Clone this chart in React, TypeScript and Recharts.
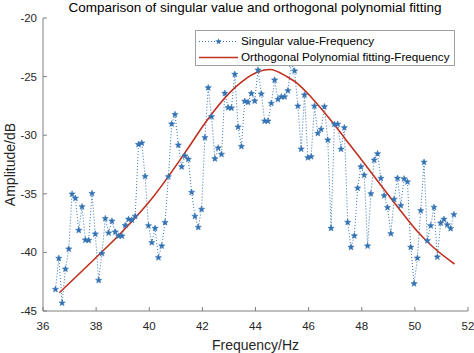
import React from 'react';
import { ComposedChart, Line, XAxis, YAxis, Legend } from 'recharts';

// Frequency (Hz) of each measured singular-value point
const frequencies = [
  36.47, 36.595, 36.72, 36.845, 36.97, 37.095, 37.22, 37.345,
  37.47, 37.595, 37.72, 37.845, 37.97, 38.095, 38.22, 38.345,
  38.47, 38.595, 38.72, 38.845, 38.97, 39.095, 39.22, 39.345,
  39.47, 39.595, 39.72, 39.845, 39.97, 40.095, 40.22, 40.345,
  40.47, 40.595, 40.72, 40.845, 40.97, 41.095, 41.22, 41.345,
  41.47, 41.595, 41.72, 41.845, 41.97, 42.095, 42.22, 42.345,
  42.47, 42.595, 42.72, 42.845, 42.97, 43.095, 43.22, 43.345,
  43.47, 43.595, 43.72, 43.845, 43.97, 44.095, 44.22, 44.345,
  44.47, 44.595, 44.72, 44.845, 44.97, 45.095, 45.22, 45.345,
  45.47, 45.595, 45.72, 45.845, 45.97, 46.095, 46.22, 46.345,
  46.47, 46.595, 46.72, 46.845, 46.97, 47.095, 47.22, 47.345,
  47.47, 47.595, 47.72, 47.845, 47.97, 48.095, 48.22, 48.345,
  48.47, 48.595, 48.72, 48.845, 48.97, 49.095, 49.22, 49.345,
  49.47, 49.595, 49.72, 49.845, 49.97, 50.095, 50.22, 50.345,
  50.47, 50.595, 50.72, 50.845, 50.97, 51.095, 51.22, 51.345,
  51.47,
];

// Singular value amplitude (dB)
const amplitudes = [
  -43.15, -40.5, -44.32, -41.42, -39.71, -35.02, -35.38, -38.11, -36.1, -38.94,
  -38.97, -34.97, -38.43, -42.38, -40.09, -37.11, -38.34, -37.32, -38.26, -38.6,
  -38.6, -37.7, -37.17, -37.24, -36.92, -30.79, -30.67, -33.52, -37.72, -39.16,
  -37.94, -40.45, -39.45, -37.45, -33.54, -29.04, -28.23, -30.84, -32.69, -31.77,
  -32.05, -34.87, -36.92, -37.86, -36.32, -30.21, -25.95, -28.42, -32.01, -31.09,
  -31.63, -26.42, -27.64, -27.68, -24.8, -29.3, -30.96, -27.1, -27.19, -26.44,
  -27.08, -24.44, -26.48, -28.79, -28.79, -27.28, -25.29, -26.94, -26.72, -26.72,
  -26.2, -23.92, -24.52, -27.51, -31.18, -26.57, -31.92, -31.83, -27.51, -29.84,
  -29.5, -27.57, -30.41, -37.94, -29.06, -29.06, -31.19, -29.36, -37.43, -39.56,
  -38.58, -34.51, -32.69, -33.41, -39.45, -34.99, -32.12, -31.58, -33.68, -35.16,
  -36.17, -38.4, -35.47, -33.67, -36.0, -33.72, -33.98, -39.56, -42.67, -40.48,
  -36.44, -32.3, -39.0, -37.72, -36.15, -40.39, -37.49, -37.17, -37.65, -37.96,
  -36.77,
];

// Orthogonal polynomial fit
const fitFrequencies = [
  36.614, 37.969, 38.899, 40.077, 41.459, 42.136, 43.266, 44.019, 44.546, 45.186,
  45.562, 46.089, 46.579, 47.068, 47.558, 48.198, 48.8, 49.44, 50.08, 50.682, 51.492,
];
const fitAmplitudes = [
  -43.44, -40.5, -38.43, -35.47, -31.12, -28.85, -25.86, -24.67, -24.39, -25.01,
  -25.55, -26.74, -28.02, -29.39, -30.84, -32.71, -34.51, -36.38, -38.17, -39.54, -40.99,
];

const xTicks = [36, 38, 40, 42, 44, 46, 48, 50, 52];
const yTicks = [-45, -40, -35, -30, -25, -20];

const titleText = 'Comparison of singular value and orthogonal polynomial fitting';
const seriesNames = ['Singular value-Frequency', 'Orthogonal Polynomial fitting-Frequency'];

const singularData = frequencies.map((f, i) => ({ f, v: amplitudes[i] }));
const fitData = fitFrequencies.map((f, i) => ({ f, v: fitAmplitudes[i] }));

const FONT = '"Liberation Sans", Arial, Helvetica, sans-serif';
const BLUE = '#3272b3';
const RED = '#c0301f';
const AXIS = '#808080';
const TEXT = '#262626';

function starPath(cx: number, cy: number, R: number, r: number) {
  let d = '';
  for (let k = 0; k < 10; k++) {
    const rad = k % 2 === 0 ? R : r;
    const a = -Math.PI / 2 + (k * Math.PI) / 5;
    const x = cx + rad * Math.cos(a);
    const y = cy + rad * Math.sin(a);
    d += (k === 0 ? 'M' : 'L') + x.toFixed(2) + ',' + y.toFixed(2);
  }
  return d + 'Z';
}

const StarDot = (props: any) => {
  const { cx, cy, index } = props;
  if (cx == null || cy == null) return <g key={'s' + index} />;
  return (
    <path
      key={'s' + index}
      d={starPath(cx, cy, 3.3, 1.4)}
      fill={BLUE}
      stroke={BLUE}
      strokeWidth={0.5}
    />
  );
};

const LegendBox = () => (
  <div
    style={{
      width: 260,
      height: 36,
      boxSizing: 'border-box',
      border: '1px solid #a0a0a0',
      background: '#ffffff',
      fontFamily: FONT,
      fontSize: 11.7,
      color: '#000',
      position: 'relative',
    }}
  >
    <svg width={44} height={34} style={{ position: 'absolute', left: 0, top: 0 }}>
      <line x1={3} y1={10.5} x2={42} y2={10.5} stroke={BLUE} strokeWidth={1} strokeDasharray="1 2" />
      <path d={starPath(22.5, 10.5, 3.3, 1.4)} fill={BLUE} />
      <line x1={3} y1={26.5} x2={42} y2={26.5} stroke={RED} strokeWidth={1.6} />
    </svg>
    <div style={{ position: 'absolute', left: 45, top: 3, lineHeight: '14px', whiteSpace: 'nowrap' }}>
      {seriesNames[0]}
    </div>
    <div style={{ position: 'absolute', left: 45, top: 19, lineHeight: '14px', whiteSpace: 'nowrap' }}>
      {seriesNames[1]}
    </div>
  </div>
);

export default function App() {
  return (
    <div style={{ position: 'absolute', left: 0, top: 0, width: 474, height: 353, background: '#fff' }}>
      <div
        style={{
          position: 'absolute',
          left: 255,
          top: 1,
          transform: 'translateX(-50%)',
          whiteSpace: 'nowrap',
          fontFamily: FONT,
          fontSize: 13.5,
          lineHeight: '14px',
          color: '#000',
          zIndex: 2,
        }}
      >
        {titleText}
      </div>
      <ComposedChart
        width={474}
        height={353}
        margin={{ top: 18, right: 6, bottom: 0, left: 0 }}
        style={{ fontFamily: FONT }}
      >
        <XAxis
          xAxisId={0}
          dataKey="f"
          type="number"
          domain={[36, 52]}
          ticks={xTicks}
          interval={0}
          allowDataOverflow
          height={42}
          tickSize={-4}
          tickMargin={15}
          axisLine={{ stroke: AXIS }}
          tickLine={{ stroke: AXIS }}
          tick={{ fill: TEXT, fontSize: 11.5, fontFamily: FONT }}
          label={{ value: 'Frequency/Hz', position: 'insideBottom', offset: 3, fill: TEXT, fontSize: 14, fontFamily: FONT }}
        />
        <XAxis
          xAxisId="top"
          orientation="top"
          type="number"
          domain={[36, 52]}
          ticks={xTicks}
          interval={0}
          allowDataOverflow
          height={0}
          tickSize={-4}
          tick={false}
          axisLine={{ stroke: AXIS }}
          tickLine={{ stroke: AXIS }}
        />
        <YAxis
          yAxisId={0}
          type="number"
          domain={[-45, -20]}
          ticks={yTicks}
          interval={0}
          allowDataOverflow
          width={43}
          tickSize={-4}
          tickMargin={10}
          axisLine={{ stroke: AXIS }}
          tickLine={{ stroke: AXIS }}
          tick={{ fill: TEXT, fontSize: 11.5, fontFamily: FONT }}
          label={{
            value: 'Amplitude/dB',
            angle: -90,
            position: 'insideLeft',
            offset: 10,
            fill: TEXT,
            fontSize: 14,
            fontFamily: FONT,
            style: { textAnchor: 'middle' },
          }}
        />
        <YAxis
          yAxisId="right"
          orientation="right"
          type="number"
          domain={[-45, -20]}
          ticks={yTicks}
          interval={0}
          allowDataOverflow
          width={0}
          tickSize={-4}
          tick={false}
          axisLine={{ stroke: AXIS }}
          tickLine={{ stroke: AXIS }}
        />
        <Line
          data={singularData}
          dataKey="v"
          name={seriesNames[0]}
          type="linear"
          stroke={BLUE}
          strokeWidth={1}
          strokeDasharray="1 2"
          dot={StarDot}
          activeDot={false}
          isAnimationActive={false}
        />
        <Line
          data={fitData}
          dataKey="v"
          name={seriesNames[1]}
          type="monotone"
          stroke={RED}
          strokeWidth={1.6}
          dot={false}
          activeDot={false}
          isAnimationActive={false}
        />
        <Legend
          layout="vertical"
          align="center"
          verticalAlign="middle"
          content={() => <LegendBox />}
          wrapperStyle={{ position: 'absolute', left: 195, top: 30, width: 260, height: 36 }}
        />
      </ComposedChart>
    </div>
  );
}
